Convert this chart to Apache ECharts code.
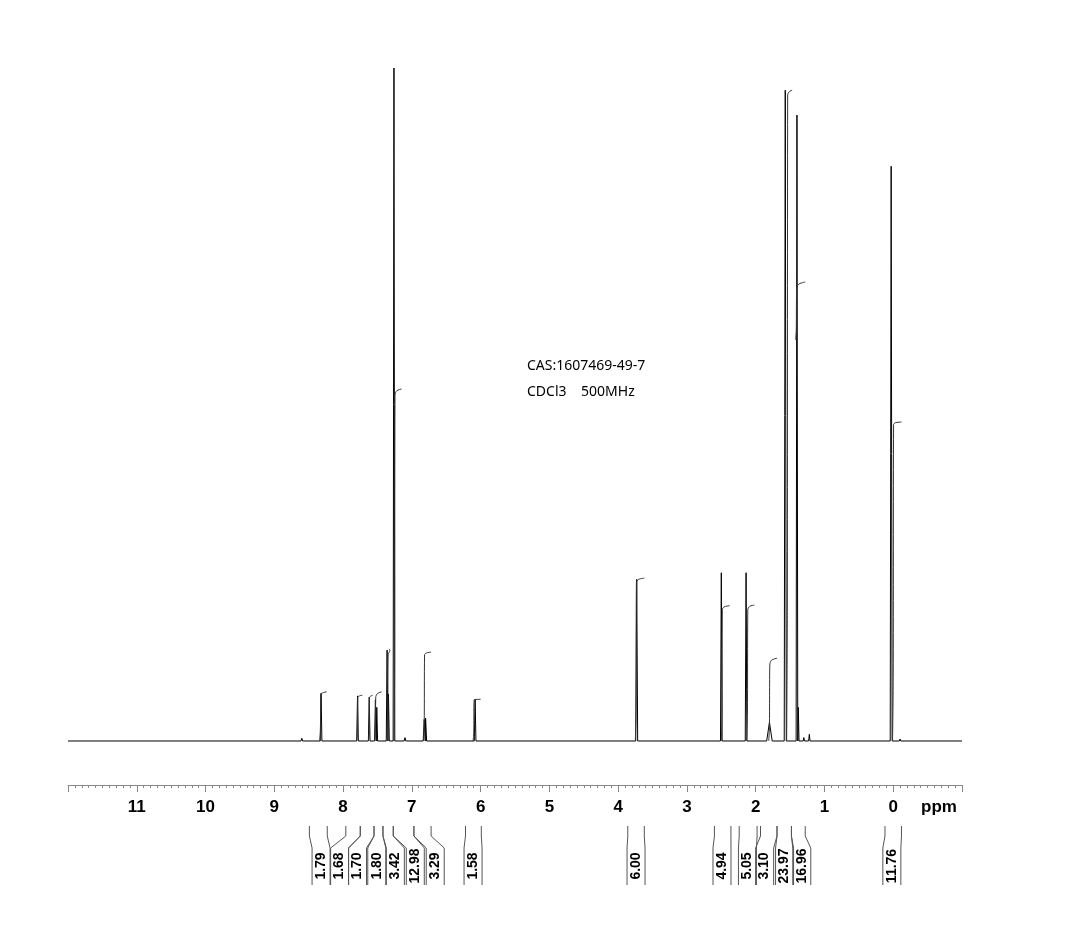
<!DOCTYPE html>
<html>
<head>
<meta charset="utf-8">
<script src="https://cdn.jsdelivr.net/npm/echarts@6/dist/echarts.min.js"></script>
<style>html,body{margin:0;background:#fff}#chart{width:1065px;height:952px}</style>
</head>
<body>
<div id="chart"></div>
<script>
// 峰位置 (ppm) 和高度 (最高峰 = 100)
var peakPpm = [8.60, 8.32, 7.79, 7.62, 7.53, 7.51, 7.36, 7.34, 7.26, 7.10, 6.82, 6.80, 6.08, 3.73, 2.50, 2.14, 1.80, 1.57, 1.40, 1.38, 1.30, 1.22, 0.03, -0.10];
var peakHeight = [0.4, 7.1, 6.7, 6.5, 6.1, 5.0, 13.5, 7.0, 100, 0.5, 3.2, 3.4, 6.2, 24, 25, 25, 2.8, 96.7, 93, 5, 0.5, 1.0, 85.4, 0.3];
var peakWidth = [0.012, 0.012, 0.012, 0.012, 0.012, 0.012, 0.012, 0.012, 0.012, 0.012, 0.015, 0.015, 0.012, 0.014, 0.012, 0.012, 0.04, 0.015, 0.012, 0.01, 0.01, 0.01, 0.014, 0.01];

// 积分曲线: [起点ppm, 底值, 顶值, 终点ppm, 终值]
var integralCurves = [
  [8.33, 0, 6.8, 8.24, 7.3],
  [7.79, 0, 6.5, 7.72, 6.8],
  [7.62, 0, 6.5, 7.57, 6.8],
  [7.53, 0, 6.5, 7.44, 7.3],
  [7.35, 0, 12.8, 7.33, 13.7],
  [7.25, 0, 51.4, 7.15, 52.3],
  [6.82, 0, 12.8, 6.72, 13.2],
  [6.10, 0, 6.1, 6.00, 6.2],
  [3.74, 0, 23.5, 3.62, 24.2],
  [2.49, 0, 19.5, 2.38, 20.1],
  [2.12, 0, 19.5, 2.02, 20.2],
  [1.80, 0, 11.3, 1.69, 12.3],
  [1.54, 0, 96, 1.47, 96.7],
  [1.41, 59.6, 67, 1.28, 68.2],
  [0.00, 0, 47, -0.12, 47.4]
];

// 积分数值 和 积分区间 (ppm)
var integralLabels = ["1.79", "1.68", "1.70", "1.80", "3.42", "12.98", "3.29", "1.58", "6.00", "4.94", "5.05", "3.10", "23.97", "16.96", "11.76"];
var integralFrom = [8.49, 7.96, 7.75, 7.55, 7.42, 7.27, 6.97, 6.22, 3.86, 2.60, 2.24, 1.93, 1.69, 1.48, 0.12];
var integralTo = [8.23, 7.75, 7.55, 7.42, 7.27, 6.97, 6.72, 5.99, 3.62, 2.36, 1.98, 1.69, 1.48, 1.28, -0.12];
var labelPpm = [8.32, 8.05, 7.79, 7.51, 7.24, 6.95, 6.66, 6.11, 3.74, 2.49, 2.12, 1.87, 1.58, 1.33, 0.02];

var spectrum = [[12, 0]];
var order = peakPpm.map(function (p, i) { return i; }).sort(function (a, b) { return peakPpm[b] - peakPpm[a]; });
order.forEach(function (i) {
  spectrum.push([peakPpm[i] + peakWidth[i], 0]);
  spectrum.push([peakPpm[i], peakHeight[i]]);
  spectrum.push([peakPpm[i] - peakWidth[i], 0]);
});
spectrum.push([-1, 0]);

var series = [{
  type: "line", data: spectrum, symbol: "none", silent: true,
  lineStyle: { color: "#000", width: 1 }
}];
integralCurves.forEach(function (c) {
  series.push({
    type: "line", symbol: "none", silent: true, smooth: 0.3,
    data: [[c[0] + 0.01, c[1]], [c[0], c[1] + (c[2] - c[1]) * 0.2], [c[0] - 0.005, c[2]], [c[0] - 0.03, c[2] + (c[4] - c[2]) * 0.7], [c[3], c[4]]],
    lineStyle: { color: "#333", width: 1 }
  });
});

var myChart = echarts.init(document.getElementById("chart"));
var option = {
  animation: false,
  grid: { left: 68, right: 103, top: 68, bottom: 167 },
  xAxis: {
    type: "value", min: -1, max: 12, inverse: true, interval: 1,
    axisLine: { onZero: false, lineStyle: { color: "#888" } },
    axisTick: { length: 7, lineStyle: { color: "#888" } },
    minorTick: { show: true, splitNumber: 10, length: 3, lineStyle: { color: "#888" } },
    splitLine: { show: false },
    axisLabel: {
      margin: 14, color: "#000", fontSize: 17, fontWeight: "bold", fontFamily: "Liberation Sans",
      formatter: function (v) { return (v < 0 || v > 11) ? "" : String(v); }
    }
  },
  yAxis: { type: "value", min: -6.54, max: 100, show: false, splitLine: { show: false } },
  series: series,
  graphic: []
};
myChart.setOption(option);

var g = [
  { type: "text", left: 527, top: 359, style: { text: "CAS:1607469-49-7", font: "14px 'Noto Sans'", fill: "#000" } },
  { type: "text", left: 527, top: 385, style: { text: "CDCl3    500MHz", font: "14px 'Noto Sans'", fill: "#000" } },
  { type: "text", left: 921, top: 799, style: { text: "ppm", font: "bold 17px 'Liberation Sans'", fill: "#000" } }
];
integralLabels.forEach(function (t, i) {
  var cx = myChart.convertToPixel({ xAxisIndex: 0 }, labelPpm[i]);
  var x1 = myChart.convertToPixel({ xAxisIndex: 0 }, integralFrom[i]);
  var x2 = myChart.convertToPixel({ xAxisIndex: 0 }, integralTo[i]);
  var ls = { stroke: "#555", lineWidth: 1, fill: null };
  g.push({ type: "polyline", shape: { points: [[x1, 826], [x1, 836], [cx - 9, 848], [cx - 9, 885]] }, style: ls });
  g.push({ type: "polyline", shape: { points: [[x2, 826], [x2, 836], [cx + 9, 848], [cx + 9, 885]] }, style: ls });
  g.push({
    type: "text", x: cx, y: 866, rotation: Math.PI / 2,
    style: { text: t, font: "bold 14px 'Liberation Sans'", fill: "#000", align: "center", verticalAlign: "middle" }
  });
});
myChart.setOption({ graphic: g });
</script>
</body>
</html>
